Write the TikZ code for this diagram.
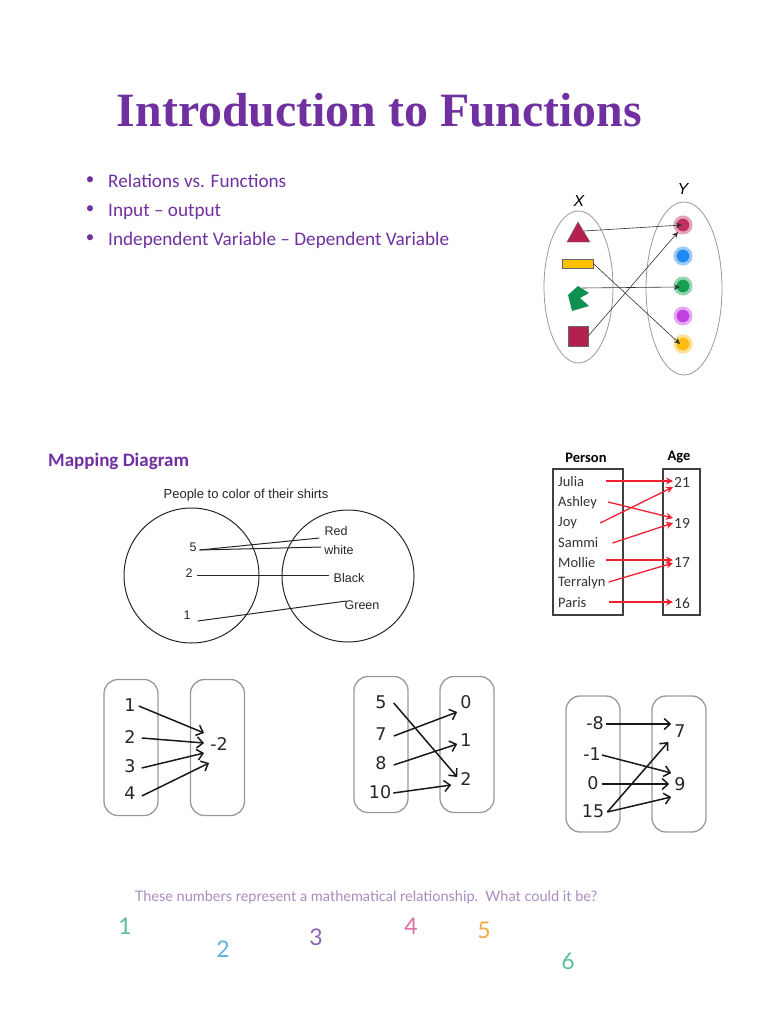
\documentclass[tikz,border=0pt]{standalone}
\usepackage{fontspec}
\setmainfont{Carlito}
\newfontfamily\titlefont{Liberation Serif}
\newfontfamily\armfont{Liberation Sans}
\newfontfamily\numfont{DejaVu Sans}
\newfontfamily\puzzlefont{Lato}
\usetikzlibrary{arrows.meta,shapes.geometric}
\definecolor{titlepurple}{HTML}{7030A0}
\definecolor{crimson}{HTML}{B5214F}
\definecolor{puzzlegrey}{HTML}{A98BC0}
\definecolor{amber}{HTML}{FFC000}
\definecolor{leaf}{HTML}{0F8F50}
\definecolor{dotred}{HTML}{C2305F}
\definecolor{dotblue}{HTML}{1E88F0}
\definecolor{dotgreen}{HTML}{14A050}
\definecolor{dotviolet}{HTML}{C040E0}
\definecolor{dotamber}{HTML}{FFBB10}
\definecolor{arrowred}{HTML}{F02030}
\definecolor{numteal}{HTML}{5BBE9B}
\definecolor{numblue}{HTML}{5BB5DE}
\definecolor{numviolet}{HTML}{8E63B0}
\definecolor{numpink}{HTML}{DE6FA0}
\definecolor{numorange}{HTML}{F0A94B}

\tikzset{
  bullettext/.style={anchor=west,inner sep=0pt,text=titlepurple,font=\fontsize{19.2}{21}\selectfont},
  bulletdot/.style={inner sep=0pt,text=titlepurple,font=\fontsize{17}{19}\selectfont},
  oval/.style={draw=black!40,ellipse,inner sep=0pt,line width=0.8pt},
  shapedot/.style={circle,inner sep=0pt,minimum size=16pt,line width=3pt},
  thinarrow/.style={->,>={Stealth[length=6pt,width=5.5pt]},draw=black!80,line width=0.6pt},
  venn/.style={draw=black!85,circle,inner sep=0pt,line width=1pt,minimum size=#1},
  vennlabel/.style={inner sep=0pt,text=black!85,font=\armfont\fontsize{12.5}{14}\selectfont},
  vennline/.style={line width=1pt,draw=black!85},
  person/.style={anchor=west,inner sep=0pt,text=black!80,font=\fontsize{14.5}{16}\selectfont},
  agebox/.style={draw=black!75,line width=1.3pt,inner sep=0pt},
  redarrow/.style={->,>={Stealth[length=7pt,width=7pt]},draw=arrowred,line width=1.3pt},
  setbox/.style={draw=black!40,line width=1.3pt,rounded corners=14pt,inner sep=0pt,minimum width=54pt,minimum height=136pt},
  num/.style={inner sep=0pt,font=\numfont\fontsize{17.5}{19}\selectfont,text=black!85},
  maparrow/.style={->,>={Straight Barb[length=6pt,width=11pt]},line width=1.5pt,draw=black!90},
  puzzle/.style={inner sep=0pt,font=\puzzlefont\fontsize{23}{25}\selectfont},
}

\begin{document}
\begin{tikzpicture}[x=1pt,y=-1pt]
  \useasboundingbox (0,0) rectangle (768,1024);
  % heading
  \node[inner sep=0pt,text=titlepurple,font=\titlefont\bfseries\fontsize{47.8}{52}\selectfont] (title) at (379.5,110.5) {Introduction to Functions};
  \node[bulletdot] (b1) at (90,181) {•};
  \node[bulletdot] (b2) at (90,210) {•};
  \node[bulletdot] (b3) at (90,239) {•};
  \node[bullettext] (t1) at (108,181) {Relations vs. Functions};
  \node[bullettext] (t2) at (108,212) {Input – output};
  \node[bullettext] (t3) at (108,240.5) {Independent Variable – Dependent Variable};
  % shapes to dots
  \node[oval,minimum width=69pt,minimum height=152pt] (setX) at (578.5,287) {};
  \node[oval,minimum width=76pt,minimum height=173pt] (setY) at (684,288.5) {};
  \node[inner sep=0pt,font=\armfont\itshape\fontsize{16}{18}\selectfont] (labX) at (579,201) {X};
  \node[inner sep=0pt,font=\armfont\itshape\fontsize{16}{18}\selectfont] (labY) at (683,189) {Y};
  \filldraw[fill=crimson,draw=black!60,line width=0.4pt] (578,222) -- (590,242) -- (567,242) -- cycle;
  \coordinate (tri) at (584,231);
  \node[draw=black!60,fill=amber,inner sep=0pt,minimum width=31pt,minimum height=9pt,line width=0.4pt] (bar) at (577.5,263.5) {};
  \fill[leaf] (578,286) -- (589,293) -- (580,298) -- (589,306) -- (572,311) -- (568,295) -- cycle;
  \coordinate (pac) at (582,288);
  \node[draw=black!60,fill=crimson,inner sep=0pt,minimum size=20pt,line width=0.4pt] (sq) at (578,336) {};
  \node[shapedot,fill=dotred,draw=dotred!45] (dot1) at (683,225) {};
  \node[shapedot,fill=dotblue,draw=dotblue!45] (dot2) at (683,256) {};
  \node[shapedot,fill=dotgreen,draw=dotgreen!45] (dot3) at (683,286) {};
  \node[shapedot,fill=dotviolet,draw=dotviolet!45] (dot4) at (683,316) {};
  \node[shapedot,fill=dotamber,draw=dotamber!45] (dot5) at (683,344) {};
  \draw[thinarrow] (tri) -- ([shift={(-1,0)}]dot1.center);
  \draw[thinarrow] (bar.east) -- ([shift={(-3,0)}]dot5.center);
  \draw[thinarrow] (pac) -- ([shift={(-3,1)}]dot3.center);
  \draw[thinarrow] (sq.east) -- ([shift={(-5,7)}]dot1.center);
  % shirts
  \node[inner sep=0pt,anchor=west,text=titlepurple,font=\bfseries\fontsize{19}{21}\selectfont] (mapping) at (48,461) {Mapping Diagram};
  \node[vennlabel,font=\armfont\fontsize{13}{15}\selectfont] (shirts) at (246,495) {People to color of their shirts};
  \node[venn=135pt] (left) at (191.5,575.5) {};
  \node[venn=132pt] (right) at (348,576) {};
  \node[vennlabel] (v5) at (193,547) {5};
  \node[vennlabel] (v2) at (189,573) {2};
  \node[vennlabel] (v1) at (187,615) {1};
  \node[vennlabel] (red) at (336,531) {Red};
  \node[vennlabel] (white) at (339,550) {white};
  \node[vennlabel] (black) at (349,578) {Black};
  \node[vennlabel] (green) at (362,605) {Green};
  \draw[vennline] ([shift={(3,3)}]v5.east) -- ([shift={(-5,7)}]red.west);
  \draw[vennline] ([shift={(3,3)}]v5.east) -- ([shift={(-3,-3)}]white.west);
  \draw[vennline] ([shift={(4,2)}]v2.east) -- ([shift={(-5,-3)}]black.west);
  \draw[vennline] ([shift={(7,6)}]v1.east) -- ([shift={(2,-4)}]green.west);
  % person table
  \node[inner sep=0pt,font=\bfseries\fontsize{14.5}{17}\selectfont] (personhead) at (586,457.5) {Person};
  \node[inner sep=0pt,font=\bfseries\fontsize{14.5}{17}\selectfont] (agehead) at (679,457.5) {Age};
  \node[agebox,minimum width=70pt,minimum height=146pt] (personbox) at (588,542) {};
  \node[agebox,minimum width=37pt,minimum height=146pt] (agesbox) at (681.5,542) {};
  \node[person] (julia) at (558,482) {Julia};
  \node[person] (ashley) at (558,503) {Ashley};
  \node[person] (joy) at (558,523) {Joy};
  \node[person] (sammi) at (558,543) {Sammi};
  \node[person] (mollie) at (558,563) {Mollie};
  \node[person] (terralyn) at (558,583) {Terralyn};
  \node[person] (paris) at (558,603) {Paris};
  \node[person,font=\fontsize{15.5}{17}\selectfont] (age21) at (674,482) {21};
  \node[person,font=\fontsize{15.5}{17}\selectfont] (age19) at (674,523) {19};
  \node[person,font=\fontsize{15.5}{17}\selectfont] (age17) at (674,563) {17};
  \node[person,font=\fontsize{15.5}{17}\selectfont] (age16) at (674,603) {16};
  \draw[redarrow] ([shift={(22,-1)}]julia.east) -- ([shift={(-1,-1)}]age21.west);
  \draw[redarrow] ([shift={(11,-1)}]ashley.east) -- ([shift={(-1,-5)}]age19.west);
  \draw[redarrow] ([shift={(23,0)}]joy.east) -- ([shift={(-1,5)}]age21.west);
  \draw[redarrow] ([shift={(14,0)}]sammi.east) -- ([shift={(-1,0)}]age19.west);
  \draw[redarrow] ([shift={(10,-3)}]mollie.east) -- ([shift={(-1,-3)}]age17.west);
  \draw[redarrow] ([shift={(3,-1)}]terralyn.east) -- ([shift={(-1,0)}]age17.west);
  \draw[redarrow] ([shift={(22,-1)}]paris.east) -- ([shift={(-1,-1)}]age16.west);
  % first mapping
  \node[setbox] (boxA) at (131,747.5) {};
  \node[setbox] (boxB) at (217.5,747.5) {};
  \node[num] (a1) at (130,705) {1};
  \node[num] (a2) at (130,737) {2};
  \node[num] (a3) at (130,766) {3};
  \node[num] (a4) at (130,793) {4};
  \node[num] (am) at (219,744) {-2};
  \draw[maparrow] ([shift={(3,1)}]a1.east) -- ([shift={(-6,-11)}]am.west);
  \draw[maparrow] ([shift={(6,1)}]a2.east) -- ([shift={(-6,-1)}]am.west);
  \draw[maparrow] ([shift={(6,2)}]a3.east) -- ([shift={(-6,9)}]am.west);
  \draw[maparrow] ([shift={(6,3)}]a4.east) -- ([shift={(-1,19)}]am.west);
  % second mapping
  \node[setbox] (boxC) at (381,744.5) {};
  \node[setbox] (boxD) at (467,744.5) {};
  \node[num] (c5) at (381,702) {5};
  \node[num] (c7) at (381,734) {7};
  \node[num] (c8) at (381,763) {8};
  \node[num] (c10) at (380,792) {10};
  \node[num] (d0) at (466,702) {0};
  \node[num] (d1) at (466,740) {1};
  \node[num] (d2) at (466,779) {2};
  \draw[maparrow] ([shift={(7,1)}]c5.east) -- ([shift={(-3,-2)}]d2.west);
  \draw[maparrow] ([shift={(7,2)}]c7.east) -- ([shift={(-3,10)}]d0.west);
  \draw[maparrow] ([shift={(7,2)}]c8.east) -- ([shift={(-3,4)}]d1.west);
  \draw[maparrow] ([shift={(2,1)}]c10.east) -- ([shift={(-9,6)}]d2.west);
  % third mapping
  \node[setbox] (boxE) at (593,764) {};
  \node[setbox] (boxF) at (679,764) {};
  \node[num] (e8) at (595,723) {-8};
  \node[num] (e1) at (592,754) {-1};
  \node[num] (e0) at (593,783) {0};
  \node[num] (e15) at (593,811) {15};
  \node[num] (f7) at (680,731) {7};
  \node[num] (f9) at (680,784) {9};
  \draw[maparrow] ([shift={(2,1)}]e8.east) -- ([shift={(-3,-7)}]f7.west);
  \draw[maparrow] ([shift={(1,1)}]e1.east) -- ([shift={(-3,-11)}]f9.west);
  \draw[maparrow] ([shift={(3,1)}]e0.east) -- ([shift={(-5,0)}]f9.west);
  \draw[maparrow] ([shift={(3,1)}]e15.east) -- ([shift={(-6,11)}]f7.west);
  \draw[maparrow] ([shift={(3,1)}]e15.east) -- ([shift={(-3,13)}]f9.west);
  % number puzzle
  \node[inner sep=0pt,text=puzzlegrey,font=\puzzlefont\fontsize{14.5}{16}\selectfont] (question) at (366,897) {These numbers represent a mathematical relationship.\ \ What could it be?};
  \node[puzzle,text=numteal] (p1) at (125,926) {1};
  \node[puzzle,text=numblue] (p2) at (223,949) {2};
  \node[puzzle,text=numviolet] (p3) at (316,937) {3};
  \node[puzzle,text=numpink] (p4) at (411,926) {4};
  \node[puzzle,text=numorange] (p5) at (484,930) {5};
  \node[puzzle,text=numteal] (p6) at (568,961) {6};
\end{tikzpicture}
\end{document}
